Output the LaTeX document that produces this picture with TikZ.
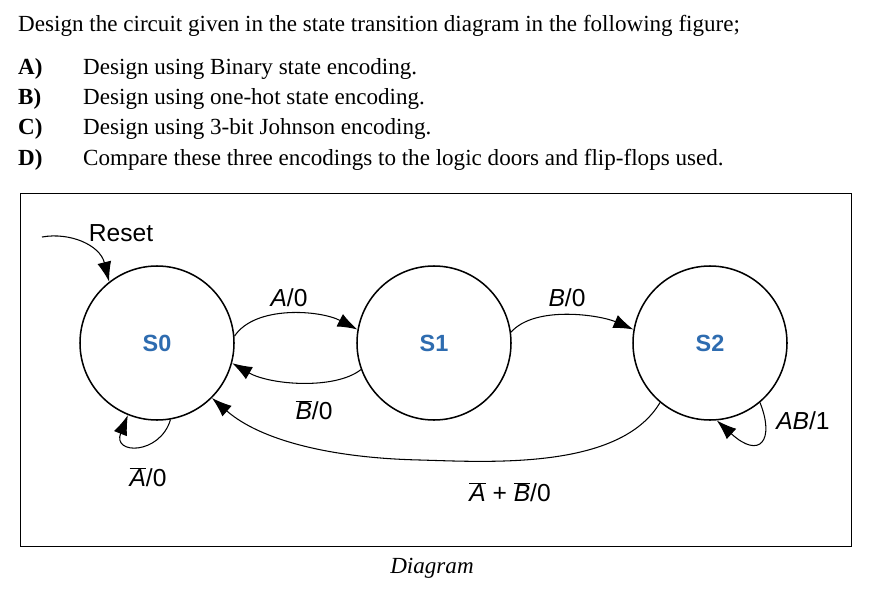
\documentclass[tikz,border=0pt]{standalone}
\usepackage{fontspec}
\setmainfont{Liberation Serif}
\newfontfamily\lsans{Liberation Sans}
\usetikzlibrary{arrows.meta}
\newcommand{\ovl}[1]{$\overline{\hbox{\textit{#1}}}$}
\begin{document}
\begin{tikzpicture}[x=0.03cm,y=-0.03cm,
 st/.style={circle,draw,line width=1.3pt,minimum size=154*0.03cm,inner sep=0pt,fill=white,font=\lsans\fontsize{20}{24}\selectfont\bfseries,text={rgb,255:red,46;green,108;blue,176}},
 tr/.style={line width=0.9pt,-{Latex[length=17pt,width=12pt]}},
 lb/.style={font=\lsans\fontsize{21}{24}\selectfont},
 tx/.style={anchor=base west,font=\fontsize{19.7}{23}\selectfont,inner sep=0pt}]
\useasboundingbox (0,0) rectangle (890,613);
\node[tx] (t0) at (18,31) {Design the circuit given in the state transition diagram in the following figure;};
\node[tx,font=\fontsize{19.7}{23}\selectfont\bfseries] (la) at (18,74) {A)};
\node[tx,font=\fontsize{19.7}{23}\selectfont\bfseries] (lb2) at (18,104) {B)};
\node[tx,font=\fontsize{19.7}{23}\selectfont\bfseries] (lc) at (18,134) {C)};
\node[tx,font=\fontsize{19.7}{23}\selectfont\bfseries] (ld) at (18,165) {D)};
\node[tx] (ia) at (83,74) {Design using Binary state encoding.};
\node[tx] (ib) at (83,104) {Design using one-hot state encoding.};
\node[tx] (ic) at (83,134) {Design using 3-bit Johnson encoding.};
\node[tx] (id) at (83,165) {Compare these three encodings to the logic doors and flip-flops used.};
\draw[line width=0.6pt] (20,193) rectangle (851,546);
\node[font=\fontsize{19.7}{23}\selectfont\itshape] (cap) at (432,568) {Diagram};
\node[st] (s0) at (157,343) {S0};
\node[st] (s1) at (434,343) {S1};
\node[st] (s2) at (710,343) {S2};
\coordinate (rs) at (42,237);
\draw[tr] (rs) .. controls (70,232) and (100,245) .. (s0.128);
\node[lb] (rl) at (121,233) {Reset};
\draw[tr] (s0.5) .. controls (255,305) and (320,310) .. (s1.170);
\node[lb] (al) at (289,298) {\textit{A}/0};
\draw[tr] (s1.200) .. controls (335,390) and (270,385) .. (s0.-15);
\node[lb] (bl) at (314,410) {\ovl{B}/0};
\draw[tr] (s1.8) .. controls (535,305) and (600,315) .. (s2.170);
\node[lb] (b2) at (567,298) {\textit{B}/0};
\draw[tr] (s2.-130) .. controls (620,470) and (490,462) .. (420,460) .. controls (330,458) and (260,440) .. (s0.-45);
\node[lb] (nl) at (510,492) {\ovl{A} + \ovl{B}/0};
\draw[tr] (s0.-80) .. controls (160,455) and (112,455) .. (s0.-112);
\node[lb] (a0) at (148,477) {\ovl{A}/0};
\draw[tr] (s2.-50) .. controls (775,440) and (760,460) .. (s2.-85);
\node[lb] (ab) at (803,421) {\textit{AB}/1};
\end{tikzpicture}
\end{document}
